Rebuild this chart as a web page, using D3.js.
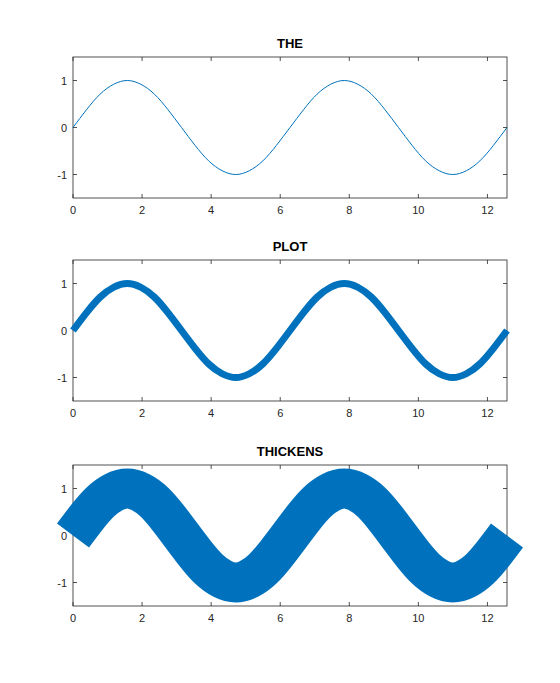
<!DOCTYPE html>
<html><head><meta charset="utf-8">
<script src="https://cdn.jsdelivr.net/npm/d3@7"></script>
<style>body{margin:0;background:#fff}text{font-family:"Liberation Sans",Arial,sans-serif}</style>
</head><body>
<script>
// Values: x in steps of pi/8 from 0 to 4*pi
var xValues = d3.range(33).map(function(i){ return i*Math.PI/8; });
var yValues = [0,0.38,0.71,0.92,1,0.92,0.71,0.38,0,-0.38,-0.71,-0.92,-1,-0.92,-0.71,-0.38,
               0,0.38,0.71,0.92,1,0.92,0.71,0.38,0,-0.38,-0.71,-0.92,-1,-0.92,-0.71,-0.38,0];
var titles = ["THE","PLOT","THICKENS"];
var lineWidths = [1,7,40];
var xTicks = [0,2,4,6,8,10,12];
var yTicks = [-1,0,1];
var tops = [57,260,465];

var W = 560, H = 683;
var left = 73, right = 507, ph = 141;
var svg = d3.select("body").append("svg").attr("width",W).attr("height",H);
var x = d3.scaleLinear().domain([0,4*Math.PI]).range([left,right]);

titles.forEach(function(t,i){
  var top = tops[i];
  var y = d3.scaleLinear().domain([-1.5,1.5]).range([top+ph,top]);
  var g = svg.append("g");
  g.append("rect").attr("x",left).attr("y",top).attr("width",right-left).attr("height",ph)
    .attr("fill","#fff").attr("stroke","#262626").attr("stroke-width",0.8);
  // ticks inside box
  xTicks.forEach(function(v){
    g.append("line").attr("x1",x(v)).attr("x2",x(v)).attr("y1",top+ph).attr("y2",top+ph-4).attr("stroke","#262626").attr("stroke-width",0.8);
    g.append("line").attr("x1",x(v)).attr("x2",x(v)).attr("y1",top).attr("y2",top+4).attr("stroke","#262626").attr("stroke-width",0.8);
    g.append("text").attr("x",x(v)).attr("y",top+ph+16).attr("text-anchor","middle").attr("font-size",11).attr("fill","#262626").text(v);
  });
  yTicks.forEach(function(v){
    g.append("line").attr("x1",left).attr("x2",left+4).attr("y1",y(v)).attr("y2",y(v)).attr("stroke","#262626").attr("stroke-width",0.8);
    g.append("line").attr("x1",right).attr("x2",right-4).attr("y1",y(v)).attr("y2",y(v)).attr("stroke","#262626").attr("stroke-width",0.8);
    g.append("text").attr("x",left-6).attr("y",y(v)+4).attr("text-anchor","end").attr("font-size",11).attr("fill","#262626").text(v);
  });
  var line = d3.line().x(function(d,k){ return x(xValues[k]); }).y(function(d){ return y(d); }).curve(d3.curveNatural);
  g.append("path").datum(yValues).attr("d",line).attr("fill","none")
    .attr("stroke","#0072BD").attr("stroke-width",lineWidths[i]).attr("stroke-linecap","butt").attr("stroke-linejoin","round");
  g.append("text").attr("x",(left+right)/2).attr("y",top-9).attr("text-anchor","middle")
    .attr("font-size",13).attr("font-weight","bold").attr("fill","#000").text(t);
});
</script>
</body></html>
